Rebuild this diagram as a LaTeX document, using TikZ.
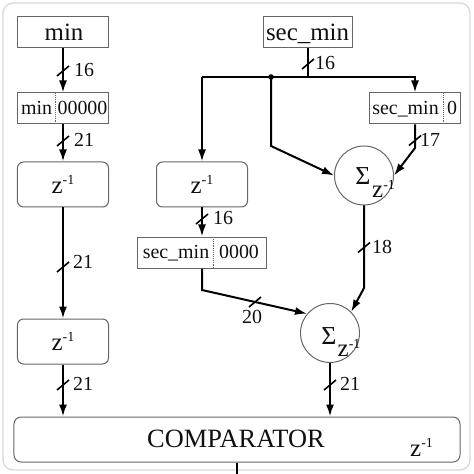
\documentclass[tikz,border=0pt]{standalone}
\usepackage{fontspec}
\setmainfont{Liberation Serif}
\usetikzlibrary{arrows.meta}
\definecolor{boxgray}{HTML}{666666}
\definecolor{framegray}{HTML}{D9D9D9}
\definecolor{inkcol}{HTML}{101010}
\newcommand\bigf{\fontsize{25}{30}\selectfont}
\newcommand\smallf{\fontsize{20}{24}\selectfont}
\newcommand\zinv{z\raisebox{8.5bp}{\fontsize{14}{14}\selectfont -1}}
\newcommand\busmark[6]{%
  \draw[slashmark] (#1,#2) ++(-6,5) -- ++(12,-10);
  \node[lbl,anchor=base west] (#6) at (#3,#4) {#5};}
\begin{document}
\begin{tikzpicture}[x=1bp,y=-1bp,
  every node/.style={text=inkcol},
  box/.style={draw=boxgray, line width=1bp, minimum width=91bp, minimum height=31bp, inner sep=0pt},
  zbox/.style={box, rounded corners=6bp, minimum height=45bp, font=\bigf},
  sumc/.style={circle, draw=boxgray, line width=1bp, minimum size=59bp, inner sep=0pt},
  bigtxt/.style={font=\bigf, inner sep=0pt},
  smtxt/.style={font=\smallf, inner sep=0pt},
  lbl/.style={font=\smallf, inner sep=0pt},
  divider/.style={draw=boxgray, line width=0.9bp, densely dotted},
  conn/.style={draw=black, line width=2bp, -{Latex[length=12bp,width=8bp]}},
  wire/.style={draw=black, line width=2bp},
  slashmark/.style={draw=black, line width=1.6bp},
  frame/.style={draw=framegray, line width=1.3bp, rounded corners=10bp}
]
\useasboundingbox (0,0) rectangle (474,474);
\draw[frame] (3,3) rectangle (470,470);

% left column
\node[box] (min) at (63,32.5) {};
\node[bigtxt, anchor=base] (mint) at (64,41) {min};
\node[box] (mb) at (63,108.5) {};
\node[smtxt, anchor=base] (mbl) at (36.5,114.5) {min};
\node[smtxt, anchor=base] (mbr) at (82.5,114.5) {00000};
\draw[divider] (55,93) -- (55,124);
\node[zbox] (za) at (63,184.5) {\zinv};
\node[zbox] (zb) at (63,341.5) {\zinv};

% right part
\node[box, minimum width=89bp] (smtop) at (308,32.5) {};
\node[bigtxt, anchor=base] (smtopt) at (307.5,40.5) {sec\_min};
\node[box] (smz) at (415,108.5) {};
\node[smtxt, anchor=base] (smzl) at (405.5,114.5) {sec\_min};
\node[smtxt, anchor=base] (smzr) at (452,114.5) {0};
\draw[divider] (443,93) -- (443,124);
\node[zbox] (zc) at (202,184.5) {\zinv};
\node[box, minimum width=129bp] (sb) at (202,252.5) {};
\node[smtxt, anchor=base] (sbl) at (176,258.5) {sec\_min};
\node[smtxt, anchor=base] (sbr) at (239,258.5) {0000};
\draw[divider] (213,237) -- (213,268);

\node[sumc] (s1) at (364,175.5) {};
\node[bigtxt, anchor=base, font=\fontsize{26}{30}\selectfont] (s1sig) at (363,185) {Σ};
\node[bigtxt, anchor=base west] (s1z) at (372,198) {\zinv};
\node[sumc] (s2) at (330,333) {};
\node[bigtxt, anchor=base, font=\fontsize{26}{30}\selectfont] (s2sig) at (329,344) {Σ};
\node[bigtxt, anchor=base west] (s2z) at (337.5,356.5) {\zinv};

% comparator
\node[box, rounded corners=7bp, minimum width=446bp, minimum height=45bp] (comp) at (237,439.5) {};
\node[bigtxt, anchor=base, font=\fontsize{26.5}{30}\selectfont] (compt) at (236,447) {COMPARATOR};
\node[bigtxt, anchor=base west] (compz) at (410,456) {\zinv};

% connectors left
\draw[conn] (min) -- (mb);
\draw[conn] (mb) -- (za);
\draw[conn] (za) -- (zb);
\draw[conn] (zb.south) -- (zb.south |- comp.north);

% connectors right
\coordinate (J) at (308,77);
\coordinate (L) at (202,77);
\coordinate (D) at (271,77);
\coordinate (D2) at (271,146);
\coordinate (R2) at (415,148);
\coordinate (B1) at (364,288);
\coordinate (B2) at (202,290);
\coordinate (E) at (237,474);
\draw[wire] (smtop.south) -- (J);
\draw[conn] (L) -- (zc.north);
\draw[conn] (L) -| (smz.north);
\fill[black] (D) circle (2.8bp);
\draw[conn] (D) -- (D2) -- (s1.west);
\draw[conn] (smz.south) -- (R2) -- (s1.east);
\draw[conn] (s1.south) -- (B1) -- (s2.45);
\draw[conn] (zc) -- (sb);
\draw[conn] (sb.south) -- (B2) -- (s2.140);
\draw[conn] (s2.south) -- (s2.south |- comp.north);
\draw[wire] (comp.south) -- (E);

% bus widths
\busmark{63}{71}{74}{77}{16}{b1}
\busmark{63}{141}{74}{147}{21}{b2}
\busmark{63}{267}{73}{268}{21}{b3}
\busmark{63}{385}{73}{390}{21}{b4}
\busmark{308}{64}{315}{70}{16}{b5}
\busmark{415}{140.5}{420}{147}{17}{b6}
\busmark{364}{247.5}{372}{253}{18}{b7}
\busmark{202}{219}{213}{225}{16}{b8}
\busmark{255}{302}{242}{323}{20}{b9}
\busmark{330}{385}{340}{390}{21}{b10}
\end{tikzpicture}
\end{document}
